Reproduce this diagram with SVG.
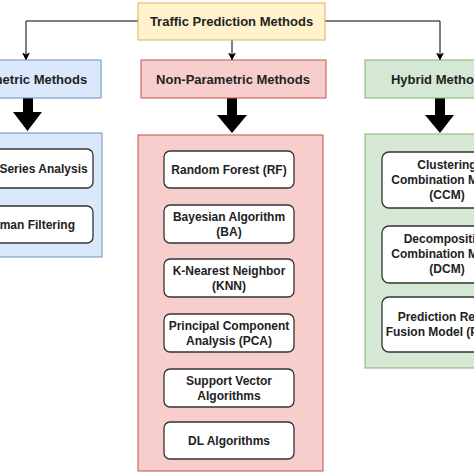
<svg xmlns="http://www.w3.org/2000/svg" width="474" height="474" viewBox="0 0 474 474">
<defs>
<marker id="ah" viewBox="0 0 8 8" refX="7.5" refY="4" markerWidth="8" markerHeight="8" markerUnits="userSpaceOnUse" orient="auto">
<path d="M0,0 L8,4 L0,8 L2,4 Z" fill="#000"/>
</marker>
</defs>
<style>
text{font-family:"Liberation Sans",Arial,sans-serif;font-weight:bold;fill:#222;text-anchor:middle}
.h{font-size:13px}
.i{font-size:12px}
.yel{fill:#fff2cc;stroke:#d6b656;stroke-width:1}
.blu{fill:#dae8fc;stroke:#6c8ebf;stroke-width:1}
.red{fill:#f8cecc;stroke:#b85450;stroke-width:1}
.grn{fill:#d5e8d4;stroke:#82b366;stroke-width:1}
.inner{fill:#fff;stroke:#333;stroke-width:1.3}
.conn{fill:none;stroke:#000;stroke-width:1;marker-end:url(#ah)}
.blk{fill:#000}
</style>
<rect width="474" height="474" fill="#fff"/>

<g id="connectors">
<path class="conn" d="M138,21 H26 V60"/>
<path class="conn" d="M232,40 V60"/>
<path class="conn" d="M325,21 H440 V60"/>
<polygon class="blk" points="23,98 33,98 33,112 42,112 27.5,131 13,112 23,112"/>
<polygon class="blk" points="227,98 237,98 237,115 247,115 232,133 217,115 227,115"/>
<polygon class="blk" points="435,98 445,98 445,115 454,115 440,133 425,115 435,115"/>
</g>

<g id="root">
<rect class="yel" x="138" y="3" width="187" height="37"/>
<text class="h" x="231.5" y="26">Traffic Prediction Methods</text>
</g>

<g id="parametric">
<rect class="blu" x="-49" y="60" width="150" height="38"/>
<text class="h" x="25" y="84">Parametric Methods</text>
</g>
<g id="parametric-group">
<rect class="blu" x="-46" y="133" width="148" height="124"/>
</g>
<g id="tsa">
<rect class="inner" x="-37" y="149" width="130" height="39" rx="6"/>
<text class="i" x="28" y="173">Time Series Analysis</text>
</g>
<g id="kalman">
<rect class="inner" x="-37" y="206" width="130" height="37" rx="6"/>
<text class="i" x="28" y="229">Kalman Filtering</text>
</g>

<g id="nonparametric">
<rect class="red" x="141" y="60" width="185" height="38"/>
<text class="h" x="233" y="84">Non-Parametric Methods</text>
</g>
<g id="nonparametric-group">
<rect class="red" x="138" y="135" width="185" height="336"/>
</g>
<g id="rf">
<rect class="inner" x="164" y="151" width="130" height="37" rx="6"/>
<text class="i" x="229" y="174">Random Forest (RF)</text>
</g>
<g id="ba">
<rect class="inner" x="164" y="205" width="130" height="38" rx="6"/>
<text class="i" x="229" y="221">Bayesian Algorithm</text>
<text class="i" x="229" y="236">(BA)</text>
</g>
<g id="knn">
<rect class="inner" x="164" y="259" width="130" height="38" rx="6"/>
<text class="i" x="229" y="275">K-Nearest Neighbor</text>
<text class="i" x="229" y="290">(KNN)</text>
</g>
<g id="pca">
<rect class="inner" x="164" y="314" width="130" height="38" rx="6"/>
<text class="i" x="229" y="330">Principal Component</text>
<text class="i" x="229" y="345">Analysis (PCA)</text>
</g>
<g id="sva">
<rect class="inner" x="164" y="369" width="130" height="38" rx="6"/>
<text class="i" x="229" y="385">Support Vector</text>
<text class="i" x="229" y="400">Algorithms</text>
</g>
<g id="dl">
<rect class="inner" x="164" y="422" width="130" height="37" rx="6"/>
<text class="i" x="229" y="445">DL Algorithms</text>
</g>

<g id="hybrid">
<rect class="grn" x="365" y="60" width="150" height="38"/>
<text class="h" x="440" y="84">Hybrid Methods</text>
</g>
<g id="hybrid-group">
<rect class="grn" x="365" y="134" width="164" height="234"/>
</g>
<g id="ccm">
<rect class="inner" x="382" y="152" width="130" height="56" rx="7"/>
<text class="i" x="447" y="169">Clustering</text>
<text class="i" x="447" y="184">Combination Model</text>
<text class="i" x="447" y="199">(CCM)</text>
</g>
<g id="dcm">
<rect class="inner" x="382" y="226" width="130" height="57" rx="7"/>
<text class="i" x="447" y="243">Decomposition</text>
<text class="i" x="447" y="258">Combination Model</text>
<text class="i" x="447" y="273">(DCM)</text>
</g>
<g id="prfm">
<rect class="inner" x="382" y="297" width="130" height="55" rx="7"/>
<text class="i" x="447" y="321">Prediction Result</text>
<text class="i" x="447" y="336">Fusion Model (PRFM)</text>
</g>
</svg>
